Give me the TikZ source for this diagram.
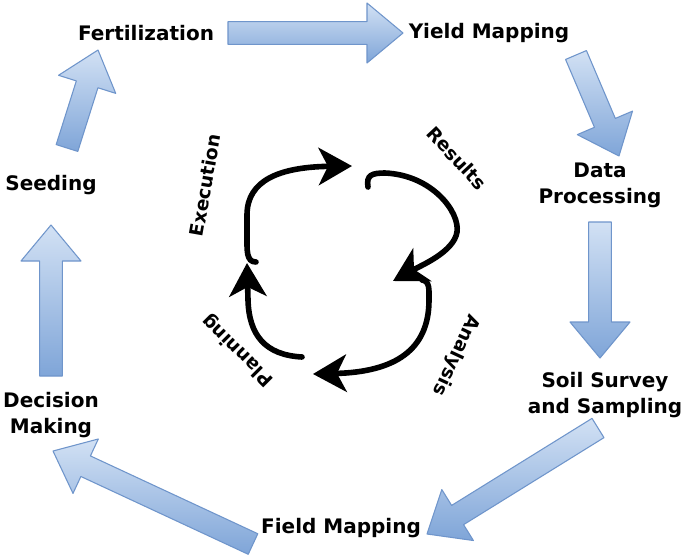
\documentclass[tikz,border=0pt]{standalone}
\usepackage{fontspec}
\setmainfont{DejaVu Sans}
\usetikzlibrary{arrows.meta,calc}
\definecolor{bafillL}{HTML}{D2E1F4}
\definecolor{bafillD}{HTML}{7FA5D8}
\definecolor{badraw}{HTML}{6F95CB}
\tikzset{
  lbl/.style={font=\bfseries\fontsize{15}{19.5}\selectfont, align=center, inner sep=0pt},
  ilbl/.style={font=\bfseries\fontsize{14}{16}\selectfont, inner sep=0pt},
  cyc/.style={line width=4.2pt, line cap=round, -{Stealth[length=25pt,width=28pt,inset=7pt]}},
  bafill/.style={draw=badraw, line width=0.8pt, top color=bafillL, bottom color=bafillD, line join=round}
}
\newcommand{\blockarrow}[2]{%
  \path let \p1=($(#2)-(#1)$) in \pgfextra{%
    \pgfmathsetmacro{\baang}{atan2(\y1,\x1)}%
    \pgfmathsetmacro{\balen}{veclen(\x1,\y1)}%
    \xdef\baang{\baang}\xdef\balen{\balen}};
  \begin{scope}[shift={(#1)}, rotate=\baang]
    \path[bafill] (0pt,-8.5pt) -- ({\balen pt-27pt},-8.5pt) -- ({\balen pt-27pt},-22.5pt) -- (\balen pt,0pt) -- ({\balen pt-27pt},22.5pt) -- ({\balen pt-27pt},8.5pt) -- (0pt,8.5pt) -- cycle;
  \end{scope}}
\begin{document}
\begin{tikzpicture}[x=0.75pt, y=-0.75pt]
\useasboundingbox (0,0) rectangle (685,558);
\fill[white] (0,0) rectangle (685,558);
% stage labels
\node[lbl] (fert) at (146,33) {Fertilization};
\node[lbl] (yield) at (489,33) {Yield Mapping};
\node[lbl] (data) at (600,185) {Data\\Processing};
\node[lbl] (soil) at (605,395) {Soil Survey\\and Sampling};
\node[lbl] (field) at (341,528) {Field Mapping};
\node[lbl] (dec) at (51,415) {Decision\\Making};
\node[lbl] (seed) at (51,185) {Seeding};
% block arrow end points
\coordinate (a1s) at (228,33);  \coordinate (a1e) at (403,33);
\coordinate (a2s) at (576,55);  \coordinate (a2e) at (619,156);
\coordinate (a3s) at (600,222); \coordinate (a3e) at (600,358);
\coordinate (a4s) at (598,428); \coordinate (a4e) at (427,534);
\coordinate (a5s) at (253,544); \coordinate (a5e) at (53,451);
\coordinate (a6s) at (51,376);  \coordinate (a6e) at (51,225);
\coordinate (a7s) at (67,148);  \coordinate (a7e) at (98,50);
\blockarrow{a1s}{a1e}
\blockarrow{a2s}{a2e}
\blockarrow{a3s}{a3e}
\blockarrow{a4s}{a4e}
\blockarrow{a5s}{a5e}
\blockarrow{a6s}{a6e}
\blockarrow{a7s}{a7e}
% inner cycle
\draw[cyc] (256,262) .. controls (246,262) and (247,250) .. (247,235) -- (247,215) .. controls (247,180) and (280,167) .. (352,166);
\draw[cyc] (368,187) .. controls (366,175) and (372,173) .. (385,173) .. controls (432,175) and (460,212) .. (457,232) .. controls (454,252) and (420,266) .. (393,281);
\draw[cyc] (422,280) .. controls (430,281) and (429,290) .. (429,300) .. controls (429,350) and (395,372) .. (313,374);
\draw[cyc] (302,357) .. controls (265,355) and (249,335) .. (248,300) -- (247,263);
% inner labels
\node[ilbl, rotate=80] (exe) at (205,185) {Execution};
\node[ilbl, rotate=-47] (res) at (457,158) {Results};
\node[ilbl, rotate=-115] (ana) at (456,355) {Analysis};
\node[ilbl, rotate=135] (pla) at (238,350) {Planning};
\end{tikzpicture}
\end{document}
